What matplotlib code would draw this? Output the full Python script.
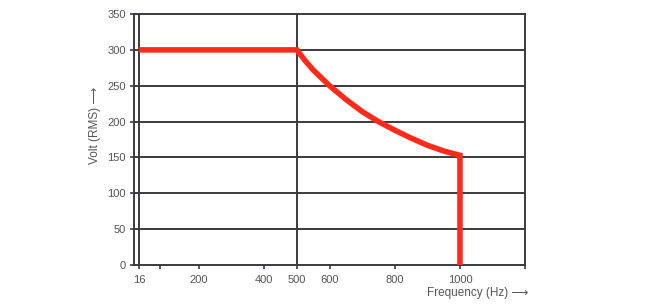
import matplotlib
matplotlib.use("Agg")
import matplotlib.pyplot as plt

# Data
freq = [16, 500, 525, 550, 575, 600, 650, 700, 750, 800, 850, 900, 950, 975, 1000, 1000]
volt = [300, 300, 285, 272, 261, 250, 231, 214, 200, 188, 177, 167, 159, 156, 153, 0]

x_ticks = [16, 80, 200, 400, 500, 600, 800, 1000, 1200]
x_labels = ["16", "", "200", "400", "500", "600", "800", "1000", ""]
y_ticks = [0, 50, 100, 150, 200, 250, 300, 350]
vlines = [16, 500]

plt.rcParams['font.family'] = ['Liberation Sans', 'DejaVu Sans']

fig = plt.figure(figsize=(6.5, 3.05), dpi=100)
ax = fig.add_axes([0.206, 0.131, 0.602, 0.823])

dark = "#3a3a3f"
for y in y_ticks[1:-1]:
    ax.axhline(y, color=dark, lw=1.4, zorder=1)
for x in vlines:
    ax.axvline(x, color=dark, lw=1.4, zorder=1)

ax.plot(freq, volt, color="#ff2a1a", lw=4.0, solid_joinstyle="miter",
        solid_capstyle="butt", zorder=3)

ax.set_xlim(0, 1200)
ax.set_ylim(0, 350)
ax.set_xticks(x_ticks)
ax.set_xticklabels(x_labels)
ax.set_yticks(y_ticks)
for s in ax.spines.values():
    s.set_color(dark)
    s.set_linewidth(1.4)
ax.tick_params(axis="both", colors=dark, labelcolor="#555555", labelsize=8,
               length=3, width=1.2)
ax.tick_params(axis="x", pad=4)
ax.tick_params(axis="y", pad=3)

fig.text(0.146, 0.59, "Volt (RMS) \u27f6", rotation=90, ha="center", va="center",
         fontsize=8.5, color="#555555")
fig.text(0.813, 0.040, "Frequency (Hz) \u27f6", ha="right", va="center",
         fontsize=8.5, color="#555555")

fig.savefig("out.png", dpi=100)
